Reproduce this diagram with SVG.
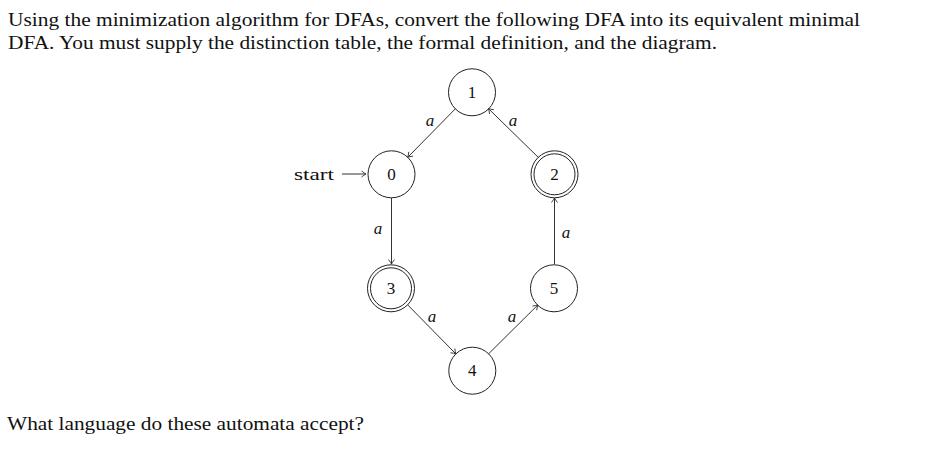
<svg xmlns="http://www.w3.org/2000/svg" width="939" height="459" viewBox="0 0 939 459">
<style>
.t{font-family:"Liberation Serif","DejaVu Serif",serif;font-size:18px;fill:#111}
.s{font-family:"Liberation Serif","DejaVu Serif",serif;font-size:17px;fill:#111;text-anchor:middle}
.n circle{fill:none;stroke:#222;stroke-width:1}
.n text{font-family:"Liberation Serif","DejaVu Serif",serif;font-size:17px;fill:#111;text-anchor:middle}
.e line{stroke:#333;stroke-width:1;marker-end:url(#ah)}
.l{font-family:"Liberation Serif","DejaVu Serif",serif;font-style:italic;font-size:17px;fill:#111;text-anchor:middle}
</style>
<defs>
<marker id="ah" viewBox="-6 -4 8 8" markerWidth="8" markerHeight="8" refX="0" refY="0" orient="auto" markerUnits="userSpaceOnUse">
<path d="M-4.5,-3 Q-1.5,-0.8 0,0 Q-1.5,0.8 -4.5,3" fill="none" stroke="#333" stroke-width="0.9"/>
</marker>
</defs>
<rect width="939" height="459" fill="#fff"/>
<text class="t" x="8" y="26" textLength="852" lengthAdjust="spacingAndGlyphs">Using the minimization algorithm for DFAs, convert the following DFA into its equivalent minimal</text>
<text class="t" x="8" y="49" textLength="709" lengthAdjust="spacingAndGlyphs">DFA. You must supply the distinction table, the formal definition, and the diagram.</text>
<text class="t" x="7" y="430" textLength="357" lengthAdjust="spacingAndGlyphs">What language do these automata accept?</text>
<text class="s" x="314" y="180" textLength="40" lengthAdjust="spacingAndGlyphs">start</text>
<g id="connectors" class="e">
<line x1="342" y1="174" x2="366" y2="174"/>
<line x1="455.5" y1="108.7" x2="407.8" y2="157.2"/>
<line x1="538.5" y1="157.6" x2="488.5" y2="108.7"/>
<line x1="391.5" y1="198" x2="391.5" y2="264"/>
<line x1="554.5" y1="264" x2="554.5" y2="198"/>
<line x1="407.8" y1="305" x2="455.8" y2="353.8"/>
<line x1="488.6" y1="353.8" x2="537.8" y2="305"/>
<text class="l" x="430" y="126">a</text>
<text class="l" x="513" y="126">a</text>
<text class="l" x="378" y="234">a</text>
<text class="l" x="566" y="238">a</text>
<text class="l" x="432" y="322">a</text>
<text class="l" x="512" y="322">a</text>
</g>
<g id="node0" class="n"><circle cx="391.5" cy="174.3" r="23.5"/><text x="391.5" y="180">0</text></g>
<g id="node1" class="n"><circle cx="472" cy="92.3" r="23.5"/><text x="472" y="98">1</text></g>
<g id="node2" class="n"><circle cx="554.5" cy="174.3" r="23.5"/><circle cx="554.5" cy="174.3" r="20.5"/><text x="554.5" y="180">2</text></g>
<g id="node3" class="n"><circle cx="391" cy="288.3" r="23.5"/><circle cx="391" cy="288.3" r="20.5"/><text x="391" y="294">3</text></g>
<g id="node4" class="n"><circle cx="472.3" cy="370.7" r="23.5"/><text x="472.3" y="376.4">4</text></g>
<g id="node5" class="n"><circle cx="554" cy="288.3" r="23.5"/><text x="554" y="294">5</text></g>
</svg>
